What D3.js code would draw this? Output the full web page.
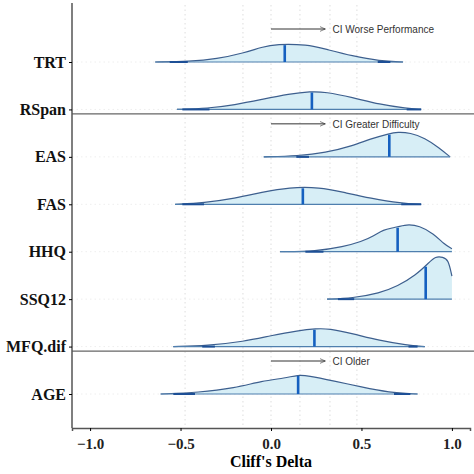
<!DOCTYPE html>
<html><head><meta charset="utf-8">
<script src="https://cdn.jsdelivr.net/npm/d3@7"></script>
<style>body{margin:0;background:#fff}</style>
</head><body><svg width="474" height="474"></svg>
<script>
const rows = ['TRT', 'RSpan', 'EAS', 'FAS', 'HHQ', 'SSQ12', 'MFQ.dif', 'AGE'];
const medians = [0.076, 0.226, 0.654, 0.176, 0.70, 0.855, 0.24, 0.15];
const densities = [
    [[-0.64,0],[-0.45,0.05],[-0.3,0.3],[-0.15,0.9],[-0.05,1.5],[0.03,1.8],[0.2,1.75],[0.3,1.3],[0.45,0.6],[0.6,0.1],[0.73,0]],
    [[-0.52,0],[-0.35,0.1],[-0.2,0.45],[-0.05,1.0],[0.1,1.55],[0.22,1.8],[0.3,1.75],[0.45,1.2],[0.6,0.5],[0.75,0.1],[0.83,0]],
    [[-0.04,0],[0.15,0.1],[0.3,0.4],[0.45,1.1],[0.55,1.8],[0.65,2.3],[0.7,2.5],[0.77,2.4],[0.85,1.9],[0.93,0.9],[0.99,0]],
    [[-0.53,0],[-0.37,0.15],[-0.2,0.6],[-0.05,1.2],[0.1,1.7],[0.27,1.7],[0.4,1.2],[0.55,0.6],[0.72,0.1],[0.83,0]],
    [[0.05,0],[0.25,0.05],[0.4,0.5],[0.5,1.0],[0.57,1.6],[0.62,2.2],[0.68,2.4],[0.75,2.75],[0.82,2.6],[0.9,1.8],[0.96,0.7],[1.0,0.3]],
    [[0.31,0],[0.45,0.1],[0.6,0.6],[0.7,1.3],[0.8,2.4],[0.87,3.6],[0.91,4.3],[0.95,4.2],[0.98,4.0],[1.0,2.3]],
    [[-0.54,0],[-0.35,0.1],[-0.15,0.5],[0.0,1.1],[0.15,1.6],[0.25,1.8],[0.32,1.8],[0.45,1.3],[0.6,0.6],[0.75,0.15],[0.85,0]],
    [[-0.61,0],[-0.4,0.15],[-0.2,0.6],[-0.05,1.3],[0.08,1.6],[0.15,1.9],[0.2,1.85],[0.35,1.3],[0.5,0.7],[0.65,0.15],[0.81,0]]
];
const tails = [
    [[-0.56,-0.46],[0.59,0.66]], [[-0.49,-0.34],[0.75,0.83]], [[0.14,0.21]], [[-0.49,-0.37],[0.72,0.83]],
    [[0.19,0.29]], [[0.37,0.46]], [[-0.38,-0.31],[0.76,0.81]], [[-0.54,-0.42],[0.68,0.77]]
];
const xTicks = [-1, -0.5, 0, 0.5, 1];
const gridVals = [-0.475, -0.155, 0, 0.16, 0.326, 0.475];
const separators = [1, 6]; // drawn just below these rows
const notes = [{row: 0, label: 'CI Worse Performance'}, {row: 2, label: 'CI Greater Difficulty'}, {row: 7, label: 'CI Older'}];

const svg = d3.select('svg');
const x = d3.scaleLinear().domain([-1.1, 1.1]).range([72, 470]);
const y = d3.scaleLinear().domain([0, 7]).range([62, 394]);
const h = d3.scaleLinear().domain([0, 5]).range([0, 50]);
const serif = 'Liberation Serif, Times New Roman, serif';

// grid
svg.selectAll('.grid').data(gridVals).enter().append('line')
    .attr('x1', d => x(d)).attr('x2', d => x(d)).attr('y1', 5).attr('y2', 428)
    .attr('stroke', '#ddd').attr('stroke-dasharray', '1.5,3');
svg.selectAll('.hgrid').data(rows).enter().append('line')
    .attr('x1', 72).attr('x2', 470).attr('y1', (d, i) => y(i)).attr('y2', (d, i) => y(i))
    .attr('stroke', '#eee').attr('stroke-dasharray', '1.5,3');

const area = d3.area().x(d => x(d[0])).y1(d => -h(d[1])).y0(0).curve(d3.curveBasis);
const line = d3.line().x(d => x(d[0])).y(d => -h(d[1])).curve(d3.curveBasis);

function interp(pts, v) {
    for (let i = 1; i < pts.length; i++) {
        if (v <= pts[i][0]) {
            const t = (v - pts[i-1][0]) / (pts[i][0] - pts[i-1][0]);
            return pts[i-1][1] + t * (pts[i][1] - pts[i-1][1]);
        }
    }
    return 0;
}

const g = svg.selectAll('.ridge').data(rows).enter().append('g')
    .attr('transform', (d, i) => `translate(0,${y(i)})`);
g.append('path').attr('d', (d, i) => area(densities[i])).attr('fill', '#d7eef6');
g.append('path').attr('d', (d, i) => line(densities[i])).attr('fill', 'none').attr('stroke', '#3d5f8e').attr('stroke-width', 1.2);
g.append('line').attr('x1', (d, i) => x(densities[i][0][0])).attr('x2', (d, i) => x(densities[i][densities[i].length-1][0]))
    .attr('stroke', '#4f7fae').attr('stroke-width', 1.2);
g.each(function(d, i) {
    d3.select(this).selectAll('.tail').data(tails[i]).enter().append('line')
        .attr('x1', t => x(t[0])).attr('x2', t => x(t[1])).attr('stroke', '#1d4f96').attr('stroke-width', 2);
});
g.append('line').attr('x1', (d, i) => x(medians[i])).attr('x2', (d, i) => x(medians[i]))
    .attr('y1', 0).attr('y2', (d, i) => -h(interp(densities[i], medians[i])) + 1)
    .attr('stroke', '#1560c0').attr('stroke-width', 2.6);

// separators
svg.selectAll('.sep').data(separators).enter().append('line')
    .attr('x1', 72).attr('x2', 474).attr('y1', d => y(d) + 4.5).attr('y2', d => y(d) + 4.5)
    .attr('stroke', '#666').attr('stroke-width', 1.2);

// notes
svg.append('defs').append('marker').attr('id', 'arr').attr('viewBox', '0 0 10 10')
    .attr('refX', 9).attr('refY', 5).attr('markerWidth', 6).attr('markerHeight', 6).attr('orient', 'auto')
    .append('path').attr('d', 'M0,1L9,5L0,9').attr('fill', 'none').attr('stroke', '#333');
const n = svg.selectAll('.note').data(notes).enter().append('g')
    .attr('transform', d => `translate(0,${y(d.row) - 33})`);
n.append('line').attr('x1', x(0)).attr('x2', x(0.3)).attr('stroke', '#333').attr('marker-end', 'url(#arr)');
n.append('text').attr('x', x(0.34)).attr('y', 4).text(d => d.label)
    .attr('font-family', 'Liberation Sans, Arial').attr('font-size', 10).attr('fill', '#333');

// axes
const xa = svg.append('g').attr('transform', 'translate(0,428)')
    .call(d3.axisBottom(x).tickValues(xTicks).tickFormat(d3.format('.1f')).tickSize(3));
xa.attr('font-family', serif).attr('font-size', 15);
xa.select('.domain').attr('stroke', '#555').attr('stroke-width', 1.5);
xa.selectAll('text').attr('font-weight', 'bold').attr('fill', '#222').attr('dy', '1em');
const ya = svg.append('g').attr('transform', 'translate(72,0)')
    .call(d3.axisLeft(y).tickValues(d3.range(rows.length)).tickFormat(i => rows[i]).tickSize(3));
ya.attr('font-family', serif).attr('font-size', 16);
ya.select('.domain').attr('d', 'M0,3V428').attr('stroke', '#555').attr('stroke-width', 1.5);
ya.selectAll('text').attr('font-weight', 'bold').attr('fill', '#111');
svg.append('text').attr('x', x(0)).attr('y', 467).attr('text-anchor', 'middle').text("Cliff's Delta")
    .attr('font-family', serif).attr('font-weight', 'bold').attr('font-size', 16);
</script></body></html>
